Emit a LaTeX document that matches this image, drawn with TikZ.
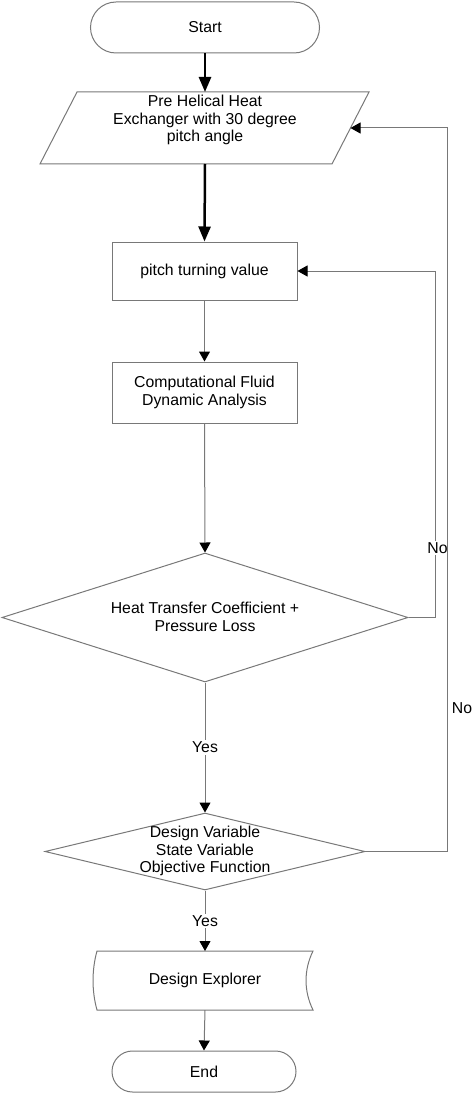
\documentclass[tikz,border=0pt]{standalone}
\usepackage{fontspec}
\setmainfont{Liberation Sans}
\usetikzlibrary{shapes.geometric,shapes.misc,arrows.meta}
\definecolor{lc}{RGB}{120,120,120}
\begin{document}
\begin{tikzpicture}[x=1pt,y=-1pt,
  every node/.style={font=\fontsize{15.8}{17.8}\selectfont, text=black},
  shp/.style={draw=lc, line width=1pt},
  term/.style={shp, rounded rectangle, inner sep=0pt},
  box/.style={shp, rectangle, minimum width=185pt, minimum height=58pt, align=center, inner sep=0pt},
  dia/.style={shp, diamond, inner sep=0pt},
  txt/.style={align=center, inner sep=0pt},
  flow/.style={draw=lc, line width=1pt, -{Triangle[length=10pt,width=11pt,color=black]}},
  thickflow/.style={draw=black, line width=2.5pt, -{Triangle[length=15pt,width=12pt]}},
  lbl/.style={fill=white, inner sep=1.5pt}
]
\useasboundingbox (0,0) rectangle (474,1094);

% Start
\node[term, minimum width=229pt, minimum height=51pt] (start) at (205,27.5) {Start};

% Parallelogram
\draw[shp] (77,92) -- (369,92) -- (332,164) -- (40,164) -- cycle;
\node[txt] (par) at (205,120) {Pre Helical Heat\\Exchanger with 30 degree\\pitch angle};
\coordinate (parT) at (205,92);
\coordinate (parB) at (205,164);
\coordinate (parR) at (350.5,128);

% pitch box
\node[box] (pitch) at (204.5,271) {pitch turning value};

% CFD box
\node[box, minimum height=61pt] (cfd) at (204.5,392.5) {Computational Fluid\\Dynamic Analysis};

% Decision 1
\node[dia, minimum width=406pt, minimum height=129pt] (d1) at (205,617.5) {};
\node[txt] (d1t) at (205,617) {Heat Transfer Coefficient +\\Pressure Loss};

% Decision 2
\node[dia, minimum width=320pt, minimum height=77pt] (d2) at (205,851.5) {};
\node[txt] (d2t) at (205,851) {Design Variable\\State Variable\\Objective Function};

% Design Explorer (stored data)
\draw[shp] (97,951) -- (313,951) .. controls (303.7,970) and (303.7,991) .. (313,1010)
  -- (97,1010) .. controls (91.7,991) and (91.7,970) .. (97,951) -- cycle;
\node[txt] (de) at (205,980.5) {Design Explorer};
\coordinate (deT) at (205,951);
\coordinate (deB) at (205,1010);

% End
\node[term, minimum width=184pt, minimum height=41pt] (end) at (204,1071.5) {End};

% Connectors
\draw[thickflow] (start.south) -- (parT);
\draw[thickflow] (parB) -- (pitch.north);
\draw[flow] (pitch.south) -- (cfd.north);
\draw[flow] (cfd.south) -- (d1.north);
\draw[flow] (d1.south) -- node[lbl] (yes1) {Yes} (d2.north);
\draw[flow] (d2.south) -- node[lbl] (yes2) {Yes} (deT);
\draw[flow] (deB) -- (end.north);

\coordinate (c1) at (435,617.5);
\draw[flow] (d1.east) -- (c1) |- (pitch.east);
\node[lbl] (no1) at (437.5,548) {No};

\coordinate (c2) at (447,851.5);
\draw[flow] (d2.east) -- (c2) |- (parR);
\node[inner sep=0pt] (no2) at (462,708) {No};
\end{tikzpicture}
\end{document}
